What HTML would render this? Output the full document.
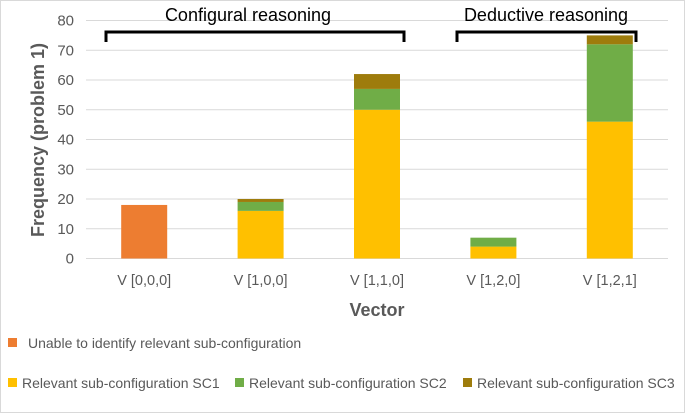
<!DOCTYPE html>
<html><head><meta charset="utf-8"><style>
html,body{margin:0;padding:0;background:#fff}
svg{display:block;font-family:"Liberation Sans",Arial,sans-serif}
</style></head><body>
<svg width="685" height="413" viewBox="0 0 685 413">
<rect x="0.5" y="0.5" width="684" height="412" fill="#fff" stroke="#d9d9d9"/>
<g id="grid"></g><g id="bars"></g><g id="labels"></g>
<text x="0" y="0" transform="translate(44,140) rotate(-90)" text-anchor="middle" font-size="18" font-weight="bold" fill="#595959">Frequency (problem 1)</text>
<text x="377" y="316" text-anchor="middle" font-size="18" font-weight="bold" fill="#595959">Vector</text>
<path d="M106,42 V32 H404 V42" fill="none" stroke="#000" stroke-width="3"/>
<text x="248" y="21" text-anchor="middle" font-size="18" fill="#000">Configural reasoning</text>
<path d="M457,42 V32 H636 V42" fill="none" stroke="#000" stroke-width="3"/>
<text x="546" y="21" text-anchor="middle" font-size="18" fill="#000">Deductive reasoning</text>
<g font-size="14" fill="#595959">
<rect x="8" y="338" width="9" height="9" fill="#ED7D31"/>
<text x="28" y="348">Unable to identify relevant sub-configuration</text>
<rect x="8" y="378" width="9" height="9" fill="#FFC000"/>
<text x="22" y="388">Relevant sub-configuration SC1</text>
<rect x="235" y="378" width="9" height="9" fill="#70AD47"/>
<text x="249" y="388">Relevant sub-configuration SC2</text>
<rect x="463" y="378" width="9" height="9" fill="#9E7C0C"/>
<text x="477" y="388">Relevant sub-configuration SC3</text>
</g>
</svg>
<script>
const categories=["V [0,0,0]","V [1,0,0]","V [1,1,0]","V [1,2,0]","V [1,2,1]"];
const unable=[18,0,0,0,0];
const sc1=[0,16,50,4,46];
const sc2=[0,3,7,3,26];
const sc3=[0,1,5,0,3];
const yTicks=[0,10,20,30,40,50,60,70,80];
const NS="http://www.w3.org/2000/svg";
const x0=86,x1=668,yTop=20.5,yBot=258.5,yMax=80;
const bw=(x1-x0)/categories.length, barW=46;
function y(v){return yBot-(v/yMax)*(yBot-yTop);}
function xc(i){return x0+bw*(i+0.5);}
const grid=document.getElementById('grid'),bars=document.getElementById('bars'),labels=document.getElementById('labels');
yTicks.forEach(t=>{
 const l=document.createElementNS(NS,'line');
 l.setAttribute('x1',x0);l.setAttribute('x2',x1);l.setAttribute('y1',y(t));l.setAttribute('y2',y(t));
 l.setAttribute('stroke','#d9d9d9');l.setAttribute('stroke-width','1');
 
 
 grid.appendChild(l);
 const tx=document.createElementNS(NS,'text');
 tx.setAttribute('x',74);tx.setAttribute('y',y(t)+5);tx.setAttribute('text-anchor','end');
 tx.setAttribute('font-size','15');tx.setAttribute('fill','#595959');tx.textContent=t;
 
 
 labels.appendChild(tx);
});
const series=[[unable,'#ED7D31','unable'],[sc1,'#FFC000','sc1'],[sc2,'#70AD47','sc2'],[sc3,'#9E7C0C','sc3']];
categories.forEach((c,i)=>{
 let acc=0;
 series.forEach(([arr,col,nm])=>{
  const v=arr[i]; if(!v) return;
  const r=document.createElementNS(NS,'rect');
  r.setAttribute('x',xc(i)-barW/2);r.setAttribute('width',barW);
  r.setAttribute('y',y(acc+v));r.setAttribute('height',y(acc)-y(acc+v));
  r.setAttribute('fill',col);
  
  
  bars.appendChild(r);acc+=v;
 });
 const tx=document.createElementNS(NS,'text');
 tx.setAttribute('x',xc(i));tx.setAttribute('y',285);tx.setAttribute('text-anchor','middle');
 tx.setAttribute('font-size','14.5');tx.setAttribute('fill','#595959');tx.textContent=c;
 
 
 labels.appendChild(tx);
});
</script>
</body></html>
